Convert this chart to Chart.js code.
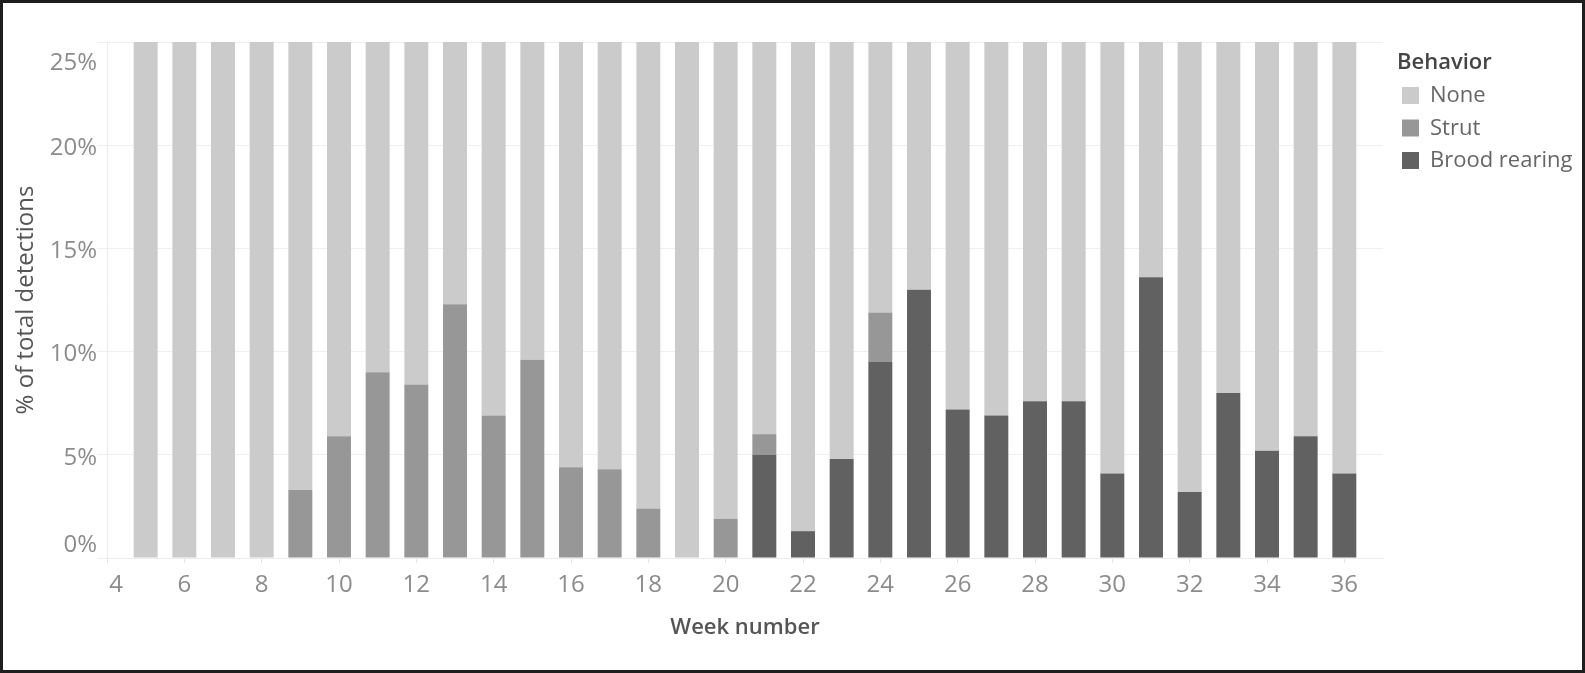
<!DOCTYPE html>
<html>
<head>
<meta charset="utf-8">
<script src="https://cdn.jsdelivr.net/npm/chart.js@4.4.1/dist/chart.umd.min.js"></script>
<style>
  html, body { margin: 0; padding: 0; background: #fff; }
  #wrap { position: absolute; left: 0; top: 0; width: 1585px; height: 673px; }
</style>
</head>
<body>
<div id="wrap"><canvas id="c"></canvas></div>
<script>
// ---- data ----
const weeks = [5,6,7,8,9,10,11,12,13,14,15,16,17,18,19,20,21,22,23,24,25,26,27,28,29,30,31,32,33,34,35,36];
const broodRearing = [0,0,0,0,0,0,0,0,0,0,0,0,0,0,0,0,5.0,1.3,4.8,9.5,13.0,7.2,6.9,7.6,7.6,4.1,13.6,3.2,8.0,5.2,5.9,4.1];
const strut = [0,0,0,0,3.3,5.9,9.0,8.4,12.3,6.9,9.6,4.4,4.3,2.4,0,1.9,1.0,0,0,2.4,0,0,0,0,0,0,0,0,0,0,0,0];
const none = [100,100,100,100,96.7,94.1,91.0,91.6,87.7,93.1,90.4,95.6,95.7,97.6,100,98.1,94.0,98.7,95.2,88.1,87.0,92.8,93.1,92.4,92.4,95.9,86.4,96.8,92.0,94.8,94.1,95.9];
const xTickLabels = [4,6,8,10,12,14,16,18,20,22,24,26,28,30,32,34,36];
const yTickLabels = [0,5,10,15,20,25];
const seriesNames = ['None', 'Strut', 'Brood rearing'];
const seriesColors = ['#cbcbcb', '#979797', '#616161'];

const toPoints = arr => weeks.map((w, i) => ({ x: w, y: arr[i] }));

const FONT_TICK = '400 24px "Open Sans"';
const FONT_LEG = '400 22px "Open Sans"';
const FONT_LEG_TITLE = '600 22px "Open Sans"';

const customDraw = {
  id: 'customDraw',
  afterDraw(chart) {
    const ctx = chart.ctx;
    const area = chart.chartArea;
    const xs = chart.scales.x, ys = chart.scales.y;
    ctx.save();
    // y tick labels (kept inside the plot height, as in the reference)
    ctx.font = FONT_TICK;
    ctx.fillStyle = '#8c8c8c';
    ctx.textAlign = 'right';
    ctx.textBaseline = 'middle';
    yTickLabels.forEach(v => {
      let y = ys.getPixelForValue(v) + 3;
      y = Math.min(Math.max(y, area.top + 21), area.bottom - 13);
      ctx.fillText(v + '%', 97, y);
    });
    // x tick labels
    ctx.textAlign = 'center';
    xTickLabels.forEach(v => {
      let x = xs.getPixelForValue(v);
      x = Math.max(x, area.left + 9);
      ctx.fillText(String(v), x, 585);
    });
    // legend
    ctx.textAlign = 'left';
    ctx.fillStyle = '#444';
    ctx.font = FONT_LEG_TITLE;
    ctx.fillText('Behavior', 1397, 63);
    ctx.font = FONT_LEG;
    seriesNames.forEach((name, i) => {
      const cy = 95 + i * 32.5;
      ctx.fillStyle = seriesColors[i];
      ctx.fillRect(1402, cy - 8, 17, 17);
      ctx.fillStyle = '#666';
      ctx.fillText(name, 1430, cy + 1);
    });
    // frame
    ctx.strokeStyle = '#1e1e1e';
    ctx.lineWidth = 3;
    ctx.strokeRect(1.5, 1.5, 1582, 670);
    ctx.restore();
  }
};

new Chart(document.getElementById('c'), {
  type: 'bar',
  data: {
    datasets: [
      { label: seriesNames[2], data: toPoints(broodRearing), backgroundColor: seriesColors[2] },
      { label: seriesNames[1], data: toPoints(strut), backgroundColor: seriesColors[1] },
      { label: seriesNames[0], data: toPoints(none), backgroundColor: seriesColors[0] }
    ]
  },
  options: {
    responsive: true,
    maintainAspectRatio: false,
    animation: false,
    layout: { padding: { top: 42, right: 202, left: 0, bottom: 0 } },
    datasets: { bar: { categoryPercentage: 1, barPercentage: 0.62 } },
    plugins: { legend: { display: false }, tooltip: { enabled: false } },
    scales: {
      x: {
        type: 'linear',
        stacked: true,
        offset: false,
        min: 4, max: 37,
        ticks: { display: false, stepSize: 2, includeBounds: false },
        grid: { offset: false, drawOnChartArea: false, drawTicks: true, tickLength: 5, color: '#e3e3e3' },
        border: { display: true, color: '#ececec' },
        title: { display: true, text: 'Week number', color: '#555', font: { family: 'Open Sans', size: 22, weight: '600' }, padding: { top: 0, bottom: 32 } },
        afterFit(s) { s.height = 115; }
      },
      y: {
        stacked: true,
        min: 0, max: 25,
        ticks: { display: false, stepSize: 5 },
        grid: { color: '#efefef', drawTicks: true, tickLength: 10 },
        border: { display: true, color: '#ececec' },
        title: { display: true, text: '% of total detections', color: '#555', font: { family: 'Open Sans', size: 24, weight: '400' }, padding: { top: 12, bottom: 0 } },
        afterFit(s) { s.width = 107; }
      }
    }
  },
  plugins: [customDraw]
});
</script>
</body>
</html>
